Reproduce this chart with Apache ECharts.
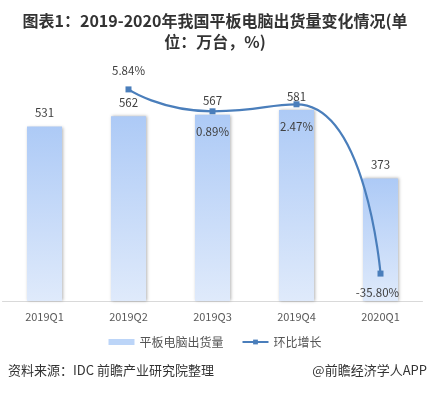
<!DOCTYPE html>
<html><head><meta charset="utf-8">
<script src="https://cdn.jsdelivr.net/npm/echarts@6/dist/echarts.min.js"></script>
<style>html,body{margin:0;padding:0;background:#fff;}#c{width:430px;height:395px;}</style>
</head><body><div id="c"></div>
<script>
const categories = ['2019Q1','2019Q2','2019Q3','2019Q4','2020Q1'];
const shipments = [531, 562, 567, 581, 373];
const growth = [null, 5.84, 0.89, 2.47, -35.80];
const seriesNames = ['平板电脑出货量', '环比增长'];
const titleText = '图表1：2019-2020年我国平板电脑出货量变化情况(单\n位：万台，%)';
const sourceText = '资料来源：IDC 前瞻产业研究院整理';
const brandText = '@前瞻经济学人APP';

const chart = echarts.init(document.getElementById('c'));
const labelPos = [null, 'top', 'bottom', 'bottom', 'bottom'];
const labelOff = [null, [0,-2], [0,4], [0,6], [-3,2]];
chart.setOption({
  animation: false,
  textStyle: {fontFamily: 'Noto Sans CJK SC, sans-serif'},
  title: {
    text: titleText, left: 'center', top: 5,
    textStyle: {fontSize: 16, fontWeight: 'bold', color: '#333', lineHeight: 21, fontFamily: 'Noto Sans CJK SC, sans-serif'}
  },
  graphic: [
    {type: 'text', left: 8, top: 364, style: {text: sourceText, fontSize: 13, fill: '#333', fontFamily: 'Noto Sans CJK SC, sans-serif'}},
    {type: 'text', right: 3, top: 364, style: {text: brandText, fontSize: 13, fill: '#333', fontFamily: 'Noto Sans CJK SC, sans-serif'}}
  ],
  legend: {
    bottom: 42, left: 'center', itemGap: 18, itemWidth: 26, itemHeight: 6,
    textStyle: {fontSize: 12, color: '#555'},
    data: [
      {name: seriesNames[0], icon: 'rect', itemStyle: {color: '#bcd5f8'}},
      {name: seriesNames[1]}
    ]
  },
  grid: {left: 2.5, right: 7.5, top: 71, bottom: 94},
  xAxis: {
    type: 'category', data: categories,
    axisLine: {lineStyle: {color: '#d9d9d9'}},
    axisTick: {show: false},
    axisLabel: {color: '#595959', fontSize: 11, margin: 10}
  },
  yAxis: [
    {type: 'value', min: 0, max: 700, show: false, splitLine: {show: false}},
    {type: 'value', min: -42, max: 10, show: false, splitLine: {show: false}}
  ],
  series: [
    {
      name: seriesNames[0], type: 'bar', data: shipments, barWidth: 35,
      itemStyle: {
        color: new echarts.graphic.LinearGradient(0, 0, 0, 1, [
          {offset: 0, color: '#adcaf6'}, {offset: 1, color: '#dfeafb'}
        ]),
        shadowBlur: 3, shadowColor: 'rgba(0,0,0,0.3)', shadowOffsetX: 1
      },
      label: {show: true, position: 'top', distance: 8, color: '#404040', fontSize: 11.5}
    },
    {
      name: seriesNames[1], type: 'line', yAxisIndex: 1,
      data: growth.map((v, i) => v === null ? null : {
        value: v,
        label: {position: labelPos[i], offset: labelOff[i]}
      }),
      smooth: 0.6, connectNulls: false,
      symbol: 'rect', symbolSize: 6,
      lineStyle: {color: '#4a7ebb', width: 2.2},
      itemStyle: {color: '#4a7ebb'},
      label: {show: true, color: '#404040', fontSize: 11.5, distance: 8,
        formatter: p => p.value.toFixed(2) + '%'}
    }
  ]
});
</script></body></html>
